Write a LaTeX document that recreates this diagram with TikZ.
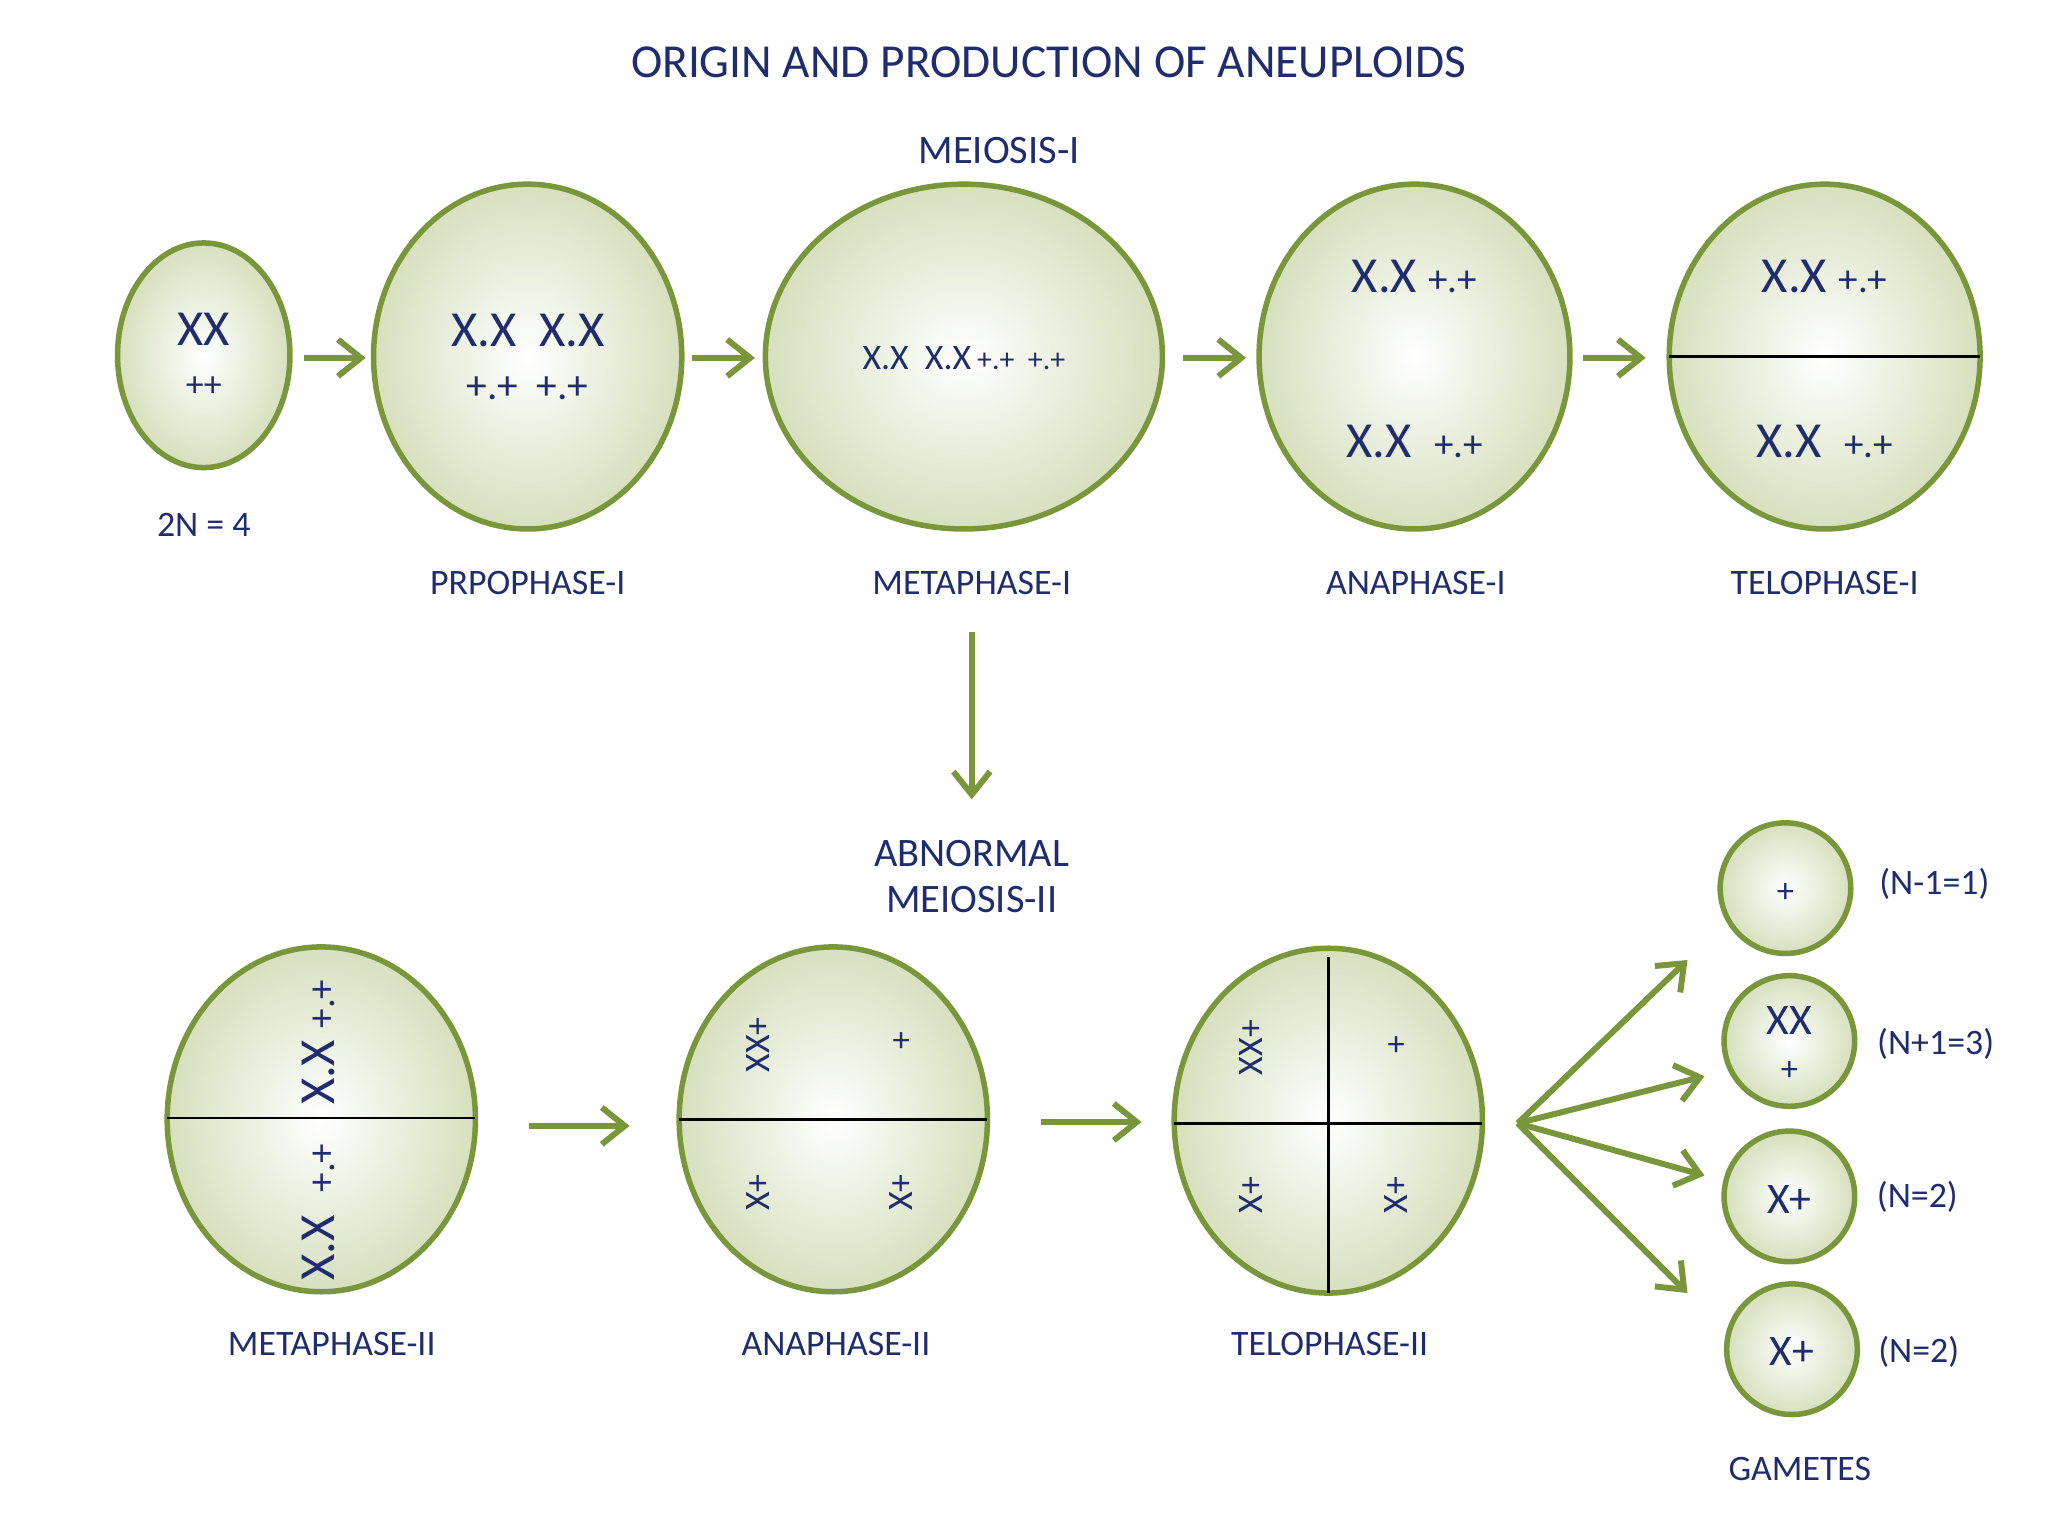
\documentclass[tikz,border=0pt]{standalone}
\usepackage{fontspec}
\setmainfont{Carlito}
\usetikzlibrary{arrows.meta}
\definecolor{txt}{RGB}{31,45,110}
\definecolor{olive}{RGB}{122,150,58}
\definecolor{cellout}{RGB}{214,224,190}
\tikzset{
  cell/.style={draw=olive,line width=1.2pt,inner color=white,outer color=cellout},
  lbl/.style={text=txt,font=\fontsize{7.8}{9}\selectfont},
  big/.style={text=txt,font=\fontsize{11}{13}\selectfont},
  mid/.style={text=txt,font=\fontsize{7.5}{9}\selectfont},
  arr/.style={draw=olive,line width=1.3pt,-{Straight Barb[length=5pt,width=8pt]}},
  sep/.style={line width=0.6pt,black}
}
\begin{document}
\begin{tikzpicture}[x=0.01cm,y=-0.01cm]
\useasboundingbox (0,0) rectangle (1568,1176);
\node[text=txt,font=\fontsize{10.3}{12}\selectfont] (title) at (803,48) {ORIGIN AND PRODUCTION OF ANEUPLOIDS};
\node[text=txt,font=\fontsize{8.8}{11}\selectfont] (m1) at (765,115) {MEIOSIS-I};
% top row cells
\draw[cell] (156,272) ellipse [x radius=66,y radius=86];
\node[big] (c1a) at (156,252) {XX};
\node[lbl] (c1b) at (156,296) {++};
\node[lbl] (c1l) at (156,402) {2N = 4};
\draw[cell] (404,273) ellipse [x radius=118,y radius=132];
\node[big] (c2a) at (404,253) {X.X\ \ X.X};
\node[text=txt,font=\fontsize{9}{10}\selectfont] (c2b) at (404,297) {+.+\ \ +.+};
\draw[cell] (738,273) ellipse [x radius=152,y radius=132];
\node[lbl] (c3a) at (738,274) {X.X\ \ X.X\,{\fontsize{6.5}{8}\selectfont+.+\ \ +.+}};
\draw[cell] (1083,273) ellipse [x radius=119,y radius=132];
\node[big] (c4a) at (1083,212) {X.X {\fontsize{8.5}{10}\selectfont+.+}};
\node[big] (c4b) at (1083,338) {X.X\ \ {\fontsize{8.5}{10}\selectfont+.+}};
\draw[cell] (1397,273) ellipse [x radius=119,y radius=132];
\draw[sep] (1278,273) -- (1516,273);
\node[big] (c5a) at (1397,212) {X.X {\fontsize{8.5}{10}\selectfont+.+}};
\node[big] (c5b) at (1397,338) {X.X\ \ {\fontsize{8.5}{10}\selectfont+.+}};
\node[lbl] (l2) at (404,446) {PRPOPHASE-I};
\node[lbl] (l3) at (744,446) {METAPHASE-I};
\node[lbl] (l4) at (1084,446) {ANAPHASE-I};
\node[lbl] (l5) at (1397,446) {TELOPHASE-I};
\coordinate (a1) at (233,274); \coordinate (b1) at (280,274);
\coordinate (a2) at (530,274); \coordinate (b2) at (578,274);
\coordinate (a3) at (906,274); \coordinate (b3) at (954,274);
\coordinate (a4) at (1212,274); \coordinate (b4) at (1260,274);
\draw[arr] (a1)--(b1); \draw[arr] (a2)--(b2); \draw[arr] (a3)--(b3); \draw[arr] (a4)--(b4);
\coordinate (v1) at (744,484); \coordinate (v2) at (744,612);
\draw[arr] (v1)--(v2);
\node[text=txt,font=\fontsize{8.8}{11}\selectfont,align=center] (ab) at (744,671) {ABNORMAL\\[-1pt]MEIOSIS-II};
% bottom row
\draw[cell] (246,857) ellipse [x radius=118,y radius=132];
\draw[sep] (128,856) -- (364,856);
\node[big,rotate=90] (c6a) at (244,798) {X.X\ {\fontsize{8.5}{10}\selectfont+.+}};
\node[big,rotate=90] (c6b) at (244,928) {X.X\ \ {\fontsize{8.5}{10}\selectfont+.+}};
\draw[cell] (638,857) ellipse [x radius=118,y radius=132];
\draw[sep] (520,857) -- (756,857);
\node[lbl,rotate=90] (c7a) at (580,800) {XX+};
\node[mid] (c7b) at (690,798) {+};
\node[lbl,rotate=90] (c7c) at (580,913) {X+};
\node[lbl,rotate=90] (c7d) at (690,913) {X+};
\draw[cell] (1017,858) ellipse [x radius=118,y radius=132];
\draw[sep] (899,860) -- (1135,860);
\draw[sep] (1017,733) -- (1017,990);
\node[lbl,rotate=90] (c8a) at (958,802) {XX+};
\node[mid] (c8b) at (1069,801) {+};
\node[lbl,rotate=90] (c8c) at (958,915) {X+};
\node[lbl,rotate=90] (c8d) at (1069,915) {X+};
\node[lbl] (l6) at (254,1029) {METAPHASE-II};
\node[lbl] (l7) at (640,1029) {ANAPHASE-II};
\node[lbl] (l8) at (1018,1029) {TELOPHASE-II};
\coordinate (a5) at (405,862); \coordinate (b5) at (482,862);
\coordinate (a6) at (797,859); \coordinate (b6) at (874,859);
\draw[arr] (a5)--(b5); \draw[arr] (a6)--(b6);
\coordinate (f0) at (1162,860);
\coordinate (f1) at (1292,735); \coordinate (f2) at (1305,824);
\coordinate (f3) at (1305,900); \coordinate (f4) at (1292,990);
\draw[arr] (f0)--(f1); \draw[arr] (f0)--(f2); \draw[arr] (f0)--(f3); \draw[arr] (f0)--(f4);
% gametes
\draw[cell] (1367,680) circle [radius=50];
\node[mid] (g1) at (1367,684) {+};
\draw[cell] (1370,797) circle [radius=50];
\node[text=txt,font=\fontsize{9.5}{11}\selectfont] (g2a) at (1370,781) {XX};
\node[mid] (g2b) at (1370,820) {+};
\draw[cell] (1370,916) circle [radius=50];
\node[text=txt,font=\fontsize{9.5}{11}\selectfont] (g3) at (1370,918) {X+};
\draw[cell] (1372,1033) circle [radius=50];
\node[text=txt,font=\fontsize{9.5}{11}\selectfont] (g4) at (1372,1035) {X+};
\node[lbl] (n1) at (1481,677) {(N-1=1)};
\node[lbl] (n2) at (1482,799) {(N+1=3)};
\node[lbl] (n3) at (1468,916) {(N=2)};
\node[lbl] (n4) at (1469,1035) {(N=2)};
\node[lbl] (gam) at (1378,1125) {GAMETES};
\end{tikzpicture}
\end{document}
